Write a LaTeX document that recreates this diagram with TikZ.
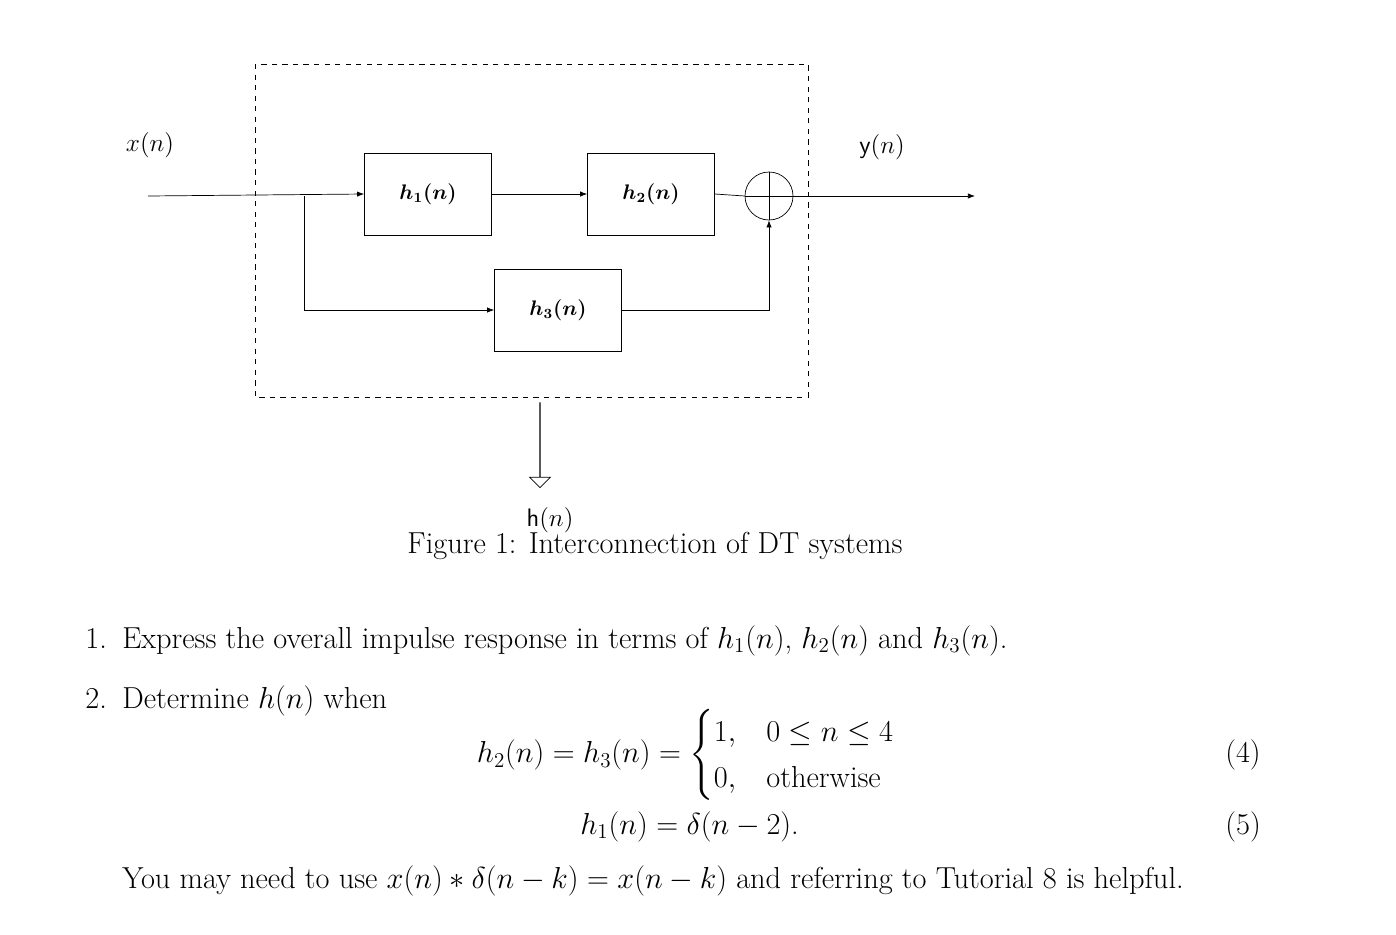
\documentclass[tikz,border=0pt]{standalone}
\usepackage{amsmath,amssymb,bm}
\usetikzlibrary{arrows.meta,shapes.arrows}
\tikzset{
  blk/.style={draw, minimum width=2.54cm, minimum height=1.64cm, inner sep=0pt, font=\large},
  sig/.style={-{Latex[length=4pt,width=3pt]}, thin},
  txt/.style={font=\LARGE, inner sep=0pt, anchor=base west}
}
\begin{document}
\begin{tikzpicture}[x=0.02cm, y=-0.02cm]
    \useasboundingbox (0,0) rectangle (1396,934);
    % Enclosing system
    \draw[dashed] (255,64) rectangle (808,397);
    % Blocks
    \node[blk] (hone) at (428,194) {$\bm{h_1(n)}$};
    \node[blk] (htwo) at (651,194) {$\bm{h_2(n)}$};
    \node[blk] (hthree) at (558,310) {$\bm{h_3(n)}$};
    \node[draw, circle, minimum size=0.96cm, inner sep=0pt] (sum) at (769,196) {};
    \draw (sum.north) -- (sum.south) (sum.west) -- (sum.east);
    % Signals
    \coordinate (xin) at (148,196);
    \coordinate (split) at (304,196);
    \coordinate (yout) at (975,196);
    \node[font=\Large] (xlbl) at (150,145) {$x(n)$};
    \node[font=\Large] (ylbl) at (882,147) {\textsf{y}$(n)$};
    \draw[sig] (xin) -- (hone.west);
    \draw[sig] (split) |- (hthree.west);
    \draw[sig] (hone.east) -- (htwo.west |- hone.east);
    \draw (htwo.east) -- (sum.west);
    \draw[sig] (hthree.east) -| (sum.south);
    \draw[sig] (sum.east) -- (yout);
    % Overall response
    \node[draw, single arrow, shape border rotate=270, single arrow head extend=0.2cm,
          minimum width=0.4cm, minimum height=1.7cm, inner sep=0pt] (down) at (540,445) {};
    \node[font=\Large] (hlbl) at (550,520) {\textsf{h}$(n)$};
    \node[font=\LARGE] (cap) at (655,546) {Figure 1: Interconnection of DT systems};
    % Questions
    \node[txt] (qa) at (85,648) {1.};
    \node[txt] (qatext) at (122,648) {Express the overall impulse response in terms of $h_1(n)$, $h_2(n)$ and $h_3(n)$.};
    \node[txt] (qb) at (85,708) {2.};
    \node[txt] (qbtext) at (122,708) {Determine $h(n)$ when};
    \node[font=\LARGE] (eqa) at (686,755)
      {$h_2(n)=h_3(n)=\begin{cases}1, & 0\le n\le 4\\ 0, & \text{otherwise}\end{cases}$};
    \node[font=\LARGE] (numa) at (1243,755) {(4)};
    \node[txt] (eqb) at (580,834) {$h_1(n)=\delta(n-2)$.};
    \node[txt] (numb) at (1225,834) {(5)};
    \node[txt] (hint) at (122,888) {You may need to use $x(n)*\delta(n-k)=x(n-k)$ and referring to Tutorial 8 is helpful.};
\end{tikzpicture}
\end{document}
